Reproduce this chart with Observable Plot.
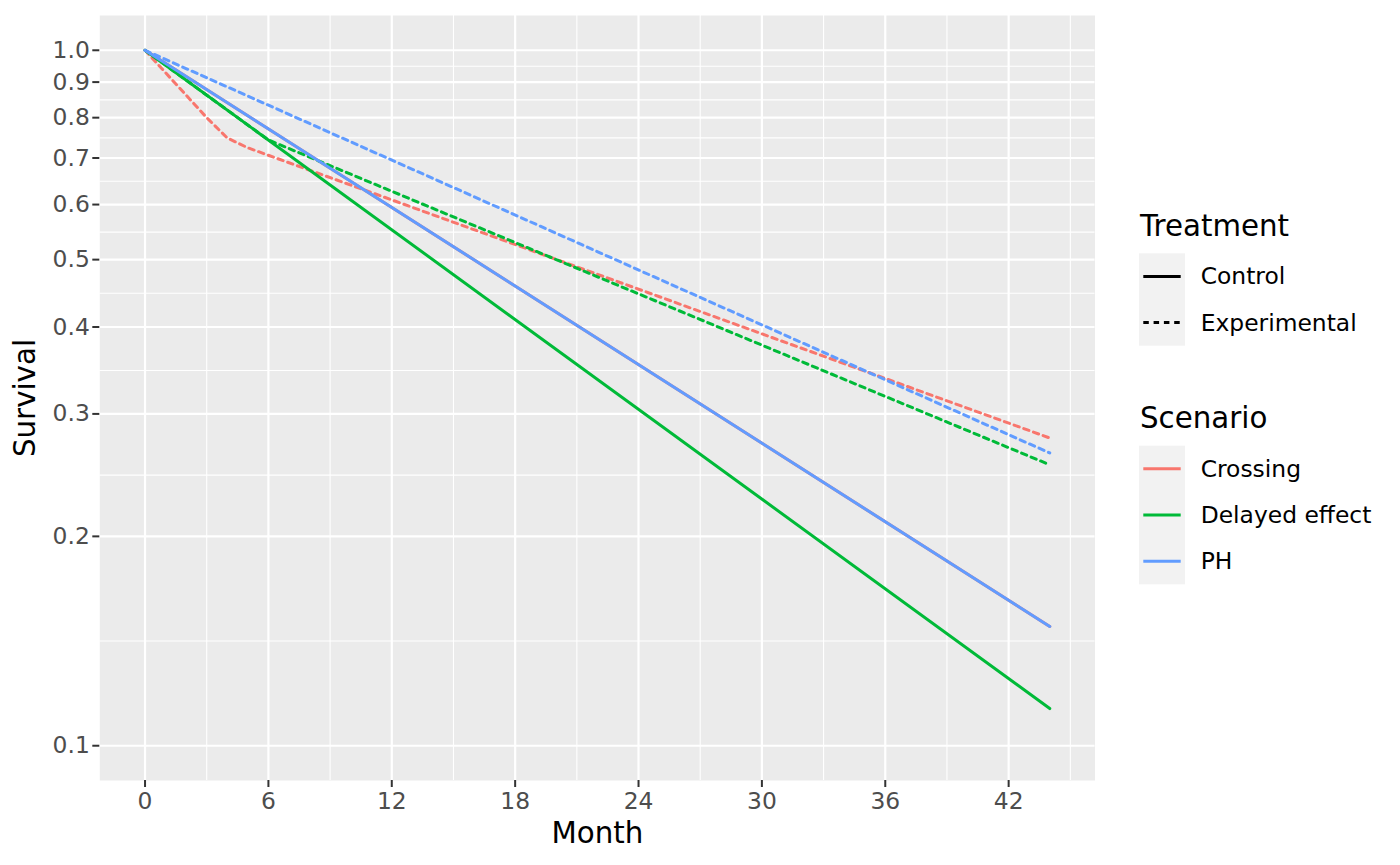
<!DOCTYPE html>
<html>
<head>
<meta charset="utf-8">
<script src="https://cdn.jsdelivr.net/npm/d3@7"></script>
<script src="https://cdn.jsdelivr.net/npm/@observablehq/plot@0.6"></script>
<style>
html, body { margin: 0; padding: 0; background: #ffffff; }
#wrap { position: relative; width: 1400px; height: 865px; font-family: "DejaVu Sans", sans-serif; }
#legend { position: absolute; left: 0; top: 0; pointer-events: none; }
</style>
</head>
<body>
<div id="wrap"></div>
<script>
// ---- Data ----
const scenarios = ["Crossing", "Delayed effect", "PH"];
const scenarioColors = ["#F8766D", "#00BA38", "#619CFF"];
const treatments = ["Control", "Experimental"];

// one entry per curve, drawn in this order
const seriesScenario  = ["Crossing", "Crossing", "Delayed effect", "Delayed effect", "PH", "PH"];
const seriesTreatment = ["Control", "Experimental", "Control", "Experimental", "Control", "Experimental"];
const seriesMonths = [
  [0, 44],
  [0, 3, 4, 5, 44],
  [0, 44],
  [0, 6, 44],
  [0, 44],
  [0, 44]
];
const seriesSurvival = [
  [1.0, 0.1484],
  [1.0, 0.800, 0.748, 0.724, 0.277],
  [1.0, 0.1131],
  [1.0, 0.743, 0.2535],
  [1.0, 0.1484],
  [1.0, 0.2636]
];

// axis ticks
const xMajor = [0, 6, 12, 18, 24, 30, 36, 42];
const xMinor = [3, 9, 15, 21, 27, 33, 39, 45];
const yMajor = [0.1, 0.2, 0.3, 0.4, 0.5, 0.6, 0.7, 0.8, 0.9, 1.0];
const xLimits = [0, 44];
const yLimits = [0.1, 1.0];

// ---- Scales (ggplot-like 5% expansion) ----
const xr = xLimits[1] - xLimits[0];
const xDomain = [xLimits[0] - 0.05 * xr, xLimits[1] + 0.05 * xr];
const ly = yLimits.map(Math.log10);
const lr = ly[1] - ly[0];
const yDomain = [Math.pow(10, ly[0] - 0.05 * lr), Math.pow(10, ly[1] + 0.05 * lr)];
// minor breaks: midpoints in log space between major breaks
const yMinor = d3.pairs(yMajor).map(([a, b]) => Math.sqrt(a * b));

const colorOf = s => scenarioColors[scenarios.indexOf(s)];
const dash = "5.5,4.8";
const tickFont = 23.4, titleFont = 29.3;

const lineMarks = seriesScenario.map((s, i) => {
  const rows = seriesMonths[i].map((m, j) => ({month: m, survival: seriesSurvival[i][j], scenario: s, treatment: seriesTreatment[i]}));
  return Plot.line(rows, {
    x: "month", y: "survival",
    stroke: colorOf(s), strokeWidth: 3,
    strokeDasharray: seriesTreatment[i] === "Experimental" ? dash : null
  });
});

const chart = Plot.plot({
  width: 1400,
  height: 865,
  marginLeft: 99.3,
  marginRight: 305.5,
  marginTop: 15,
  marginBottom: 85,
  style: {fontFamily: "DejaVu Sans, sans-serif", background: "#ffffff"},
  x: {domain: xDomain},
  y: {type: "log", domain: yDomain},
  marks: [
    Plot.frame({fill: "#EBEBEB", stroke: "none"}),
    Plot.ruleX(xMinor, {stroke: "#ffffff", strokeWidth: 1.1}),
    Plot.ruleY(yMinor, {stroke: "#ffffff", strokeWidth: 1.1}),
    Plot.ruleX(xMajor, {stroke: "#ffffff", strokeWidth: 2.2}),
    Plot.ruleY(yMajor, {stroke: "#ffffff", strokeWidth: 2.2}),
    ...lineMarks,
    Plot.axisX(xMajor, {tickSize: 7, tickPadding: 5, fontSize: tickFont, color: "#4D4D4D", stroke: "#333333", strokeWidth: 2, label: null, tickFormat: d => String(d)}),
    Plot.axisY(yMajor, {tickSize: 7, tickPadding: 3, fontSize: tickFont, color: "#4D4D4D", stroke: "#333333", strokeWidth: 2, label: null, tickFormat: d3.format(".1f")}),
    Plot.text(["Survival"], {frameAnchor: "left", dx: -74, rotate: -90, textAnchor: "middle", lineAnchor: "middle", fontSize: titleFont, fill: "#000000"}),
    Plot.text(["Month"], {frameAnchor: "bottom", dy: 53, textAnchor: "middle", lineAnchor: "middle", fontSize: titleFont, fill: "#000000"})
  ]
});

const wrap = document.getElementById("wrap");
wrap.appendChild(chart);

// ---- Legend ----
const lg = d3.select(wrap).append("svg").attr("id", "legend")
  .attr("width", 1400).attr("height", 865)
  .attr("font-family", "DejaVu Sans, sans-serif");

const keyX = 1139, keyW = 46, keyH = 46.2, lineX1 = 1143.3, lineX2 = 1180.7, labelX = 1200.7;

function legendBlock(title, titleY, keysTop, items, styleFn) {
  lg.append("text").attr("x", 1140).attr("y", titleY).attr("dominant-baseline", "central")
    .attr("font-size", titleFont).attr("fill", "#000").text(title);
  lg.append("rect").attr("x", keyX).attr("y", keysTop).attr("width", keyW)
    .attr("height", keyH * items.length).attr("fill", "#F2F2F2");
  items.forEach((it, i) => {
    const cy = keysTop + keyH * (i + 0.5);
    const st = styleFn(it, i);
    lg.append("line").attr("x1", lineX1).attr("x2", lineX2).attr("y1", cy).attr("y2", cy)
      .attr("stroke", st.stroke).attr("stroke-width", 3)
      .attr("stroke-dasharray", st.dash || null);
    lg.append("text").attr("x", labelX).attr("y", cy).attr("dominant-baseline", "central")
      .attr("font-size", tickFont).attr("fill", "#000").text(it);
  });
}

legendBlock("Treatment", 225.5, 253.3, treatments, (t) => ({stroke: "#000", dash: t === "Experimental" ? dash : null}));
legendBlock("Scenario", 418.3, 445.7, scenarios, (s, i) => ({stroke: scenarioColors[i]}));
</script>
</body>
</html>
